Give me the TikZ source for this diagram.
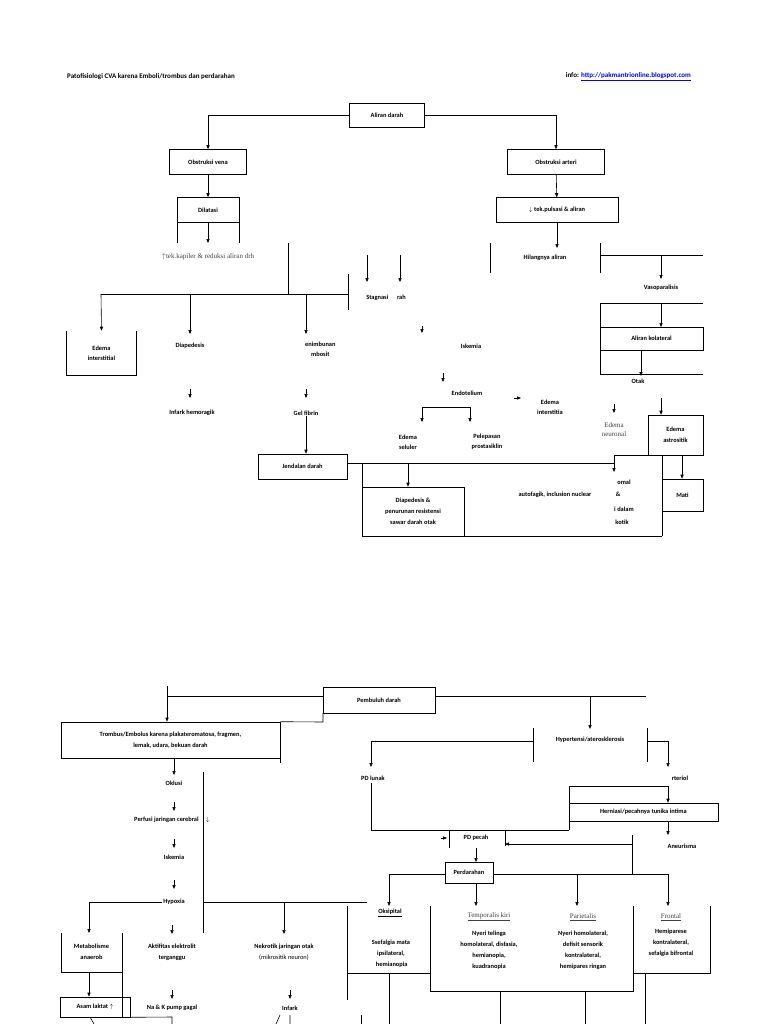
\documentclass[tikz,border=0pt]{standalone}
\usepackage{fontspec}
\setmainfont{Carlito}
\newfontfamily\serifx{Liberation Serif}
\usetikzlibrary{arrows.meta}
\begin{document}
\begin{tikzpicture}[x=1pt,y=-1pt,
 every node/.style={font=\fontsize{6.4}{8}\selectfont\bfseries,align=center,inner sep=1pt},
 bx/.style={draw,line width=0.6pt},
 ln/.style={line width=0.6pt},
 ar/.style={line width=0.6pt,-{Triangle[length=4pt,width=3.2pt]}},
 sr/.style={font=\fontsize{7}{9}\selectfont\serifx,text=black!75}]
\useasboundingbox (0,0) rectangle (768,1024);
% header
\node[anchor=west,font=\fontsize{7}{9}\selectfont\bfseries] (title) at (66,77) {Patofisiologi CVA karena Emboli/trombus dan perdarahan};
\node[anchor=east,font=\fontsize{7}{9}\selectfont\bfseries] (info) at (692,77) {info: \textcolor{blue}{\underline{http://pakmantrionline.blogspot.com}}};
% ===== TOP =====
\node[bx,minimum width=75pt,minimum height=24pt] (ad) at (387,115) {Aliran darah};
\node[bx,minimum width=77pt,minimum height=25pt] (ov) at (208,162) {Obstruksi vena};
\node[bx,minimum width=97pt,minimum height=25pt] (oa) at (556,162) {Obstruksi arteri};
\draw[ar] (ad.west) -| (ov.north);
\draw[ar] (ad.east) -| (oa.north);
\node[bx,minimum width=62pt,minimum height=25pt] (dil) at (208,210) {Dilatasi};
\node[bx,minimum width=122pt,minimum height=25pt] (tp) at (557,210) {$\downarrow$ tek.pulsasi \& aliran};
\draw[ar] (ov) -- (dil);
\draw[ar] (oa) -- (tp);
\draw[ln] (177,223) -- (177,243) (239,223) -- (239,243);
\node[sr] (tk) at (208,257) {$\uparrow$tek.kapiler \& reduksi aliran drh};
\coordinate (tkt) at (208,243);
\draw[ar] (dil.south) -- (tkt);
\draw[ln] (288,243) -- (288,294);
\draw[ln] (101,294) -- (348,294) (348,274) -- (348,310);
\node[bx,draw=none,minimum width=69pt,minimum height=44pt] (ei) at (101.5,353) {Edema\\[2pt]interstitial};
\draw[ln] (ei.north west) |- (ei.south east) -- (ei.north east);
\node (dia) at (190,346) {Diapedesis};
\node[anchor=north west] (pen) at (304,341) {enimbunan\\[2pt]mbosit};
\draw[ar] (101,294) -- (ei.north);
\draw[ar] (190,294) -- (190,334);
\draw[ar] (306,294) -- (306,334);
\node (stg) at (386,298) {Stagnasi \ \ \ \ \ rah};
\coordinate (s1) at (367,282); \coordinate (s2) at (400,282);
\draw[ar] (367,255) -- (s1);
\draw[ar] (400,255) -- (s2);
\coordinate (a1) at (422,333);
\draw[ar] (422,326) -- (a1);
\node (isk) at (471,346) {Iskemia};
\draw[ar] (190,389) -- (190,398);
\draw[ar] (306,389) -- (306,398);
\node (ih) at (192,413) {Infark hemoragik};
\node (gf) at (306,413) {Gel fibrin};
\draw[ar] (443,373) -- (443,382);
\node (end) at (467,393) {Endotelium};
\node (es) at (408,442) {Edema\\[2pt]seluler};
\node (pp) at (487,442) {Pelepasan\\[2pt]prostasiklin};
\draw[ar] (470,407) -- (422,407) -- (422,422);
\draw[ar] (422,407) -- (470,407) -- (470,422);
\draw[ar] (514,398) -- (521,398);
\node (eit) at (550,407) {Edema\\[2pt]interstitia};
\draw[ar] (614,404) -- (614,413);
\node[sr] (en) at (614,430) {Edema\\neuronal};
% right branch
\node (hil) at (545,258) {Hilangnya aliran};
\draw[ar] (tp.south -| 557,0) -- (557,248);
\draw[ln] (490,243) -- (490,273) (600,243) -- (600,273);
\draw[ln] (600,255) -- (703,255);
\node (vas) at (661,288) {Vasoparalisis};
\draw[ar] (661,255) -- (661,279);
\draw[ln] (703,303) -- (600,303) -- (600,374) -- (703,374);
\node[bx,minimum width=103pt,minimum height=23pt] (ak) at (651.5,338.5) {Aliran kolateral};
\draw[ar] (661,303) -- (661,327);
\node (otak) at (638,381) {Otak};
\draw[ar] (641,350) -- (641,376);
\node[bx,minimum width=55pt,minimum height=40pt] (eas) at (675.5,435) {Edema\\[3pt]astrositik};
\draw[ar] (661,398) -- (eas.north -| 661,0);
\node[bx,minimum width=41pt,minimum height=32pt] (mati) at (682.5,495) {Mati};
\draw[ar] (682,455) -- (mati.north -| 682,0);
\draw[ln] (662,455) -- (662,536);
\node[bx,minimum width=89pt,minimum height=25pt] (jd) at (302.5,466.5) {Jendalan darah};
\draw[ar] (gf.south) -- (jd.north -| 306,0);
\draw[ln] (jd.east |- 0,463) -- (614,463) -- (614,455) -- (648,455);
\draw[ar] (614,455) -- (614,472);
\draw[ln] (362,463) -- (362,536) -- (662,536);
\node[bx,minimum width=102pt,minimum height=49pt] (dp) at (413,511.5) {Diapedesis \&\\[3pt]penurunan resistensi\\[3pt]sawar darah otak};
\draw[ar] (408,463) -- (dp.north -| 408,0);
\node (om) at (624,482) {omal};
\node (au) at (555,495) {autofagik, inclusion nuclear};
\node (amp) at (618,494) {\&};
\node (idl) at (624,509) {i dalam};
\node (ko) at (622,522) {kotik};
% ===== BOTTOM =====
\node[bx,minimum width=112pt,minimum height=26pt] (pd) at (379,700) {Pembuluh darah};
\draw[ln] (167,696) -- (pd.west |- 0,696) (pd.east |- 0,696) -- (646,696);
\draw[ln] (167,686) -- (167,696);
\node[bx,minimum width=219pt,minimum height=36pt] (tr) at (170.5,740) {Trombus/Embolus karena plakateromatosa, fragmen,\\[3pt]lemak, udara, bekuan darah};
\draw[ar] (167,696) -- (tr.north -| 167,0);
\draw[ln] (tr.north east) -- (323,722) -- (323,713);
\draw[ln] (280,758) -- (280,763);
\node (okl) at (174,783) {Oklusi};
\draw[ar] (174,758) -- (174,775);
\draw[ln] (203,772) -- (203,933);
\draw[ar] (174,802) -- (174,811);
\node (perf) at (172,820) {Perfusi jaringan cerebral \ \ \ \ \mdseries$\downarrow$};
\draw[ar] (174,839) -- (174,848);
\node (isk2) at (174,857) {Iskemia};
\draw[ar] (174,880) -- (174,889);
\node (hyp) at (174,902) {Hypoxia};
\draw[ln] (hyp.west) -- (89,902);
\draw[ln] (203,902) -- (367,902);
\draw[ar] (89,902) -- (89,933);
\node (met) at (91.5,952) {Metabolisme\\[3pt]anaerob};
\draw[ln] (61,933) -- (61,972) -- (122,972) (122,933) -- (122,1017);
\node[bx,minimum width=70pt,minimum height=20pt] (al) at (95,1007) {Asam laktat $\uparrow$};
\draw[ar] (89,972) -- (al.north -| 89,0);
\draw[ln] (al.south east) -- (172,1017) -- (172,1024);
\draw[ln] (90,1017) .. controls (92,1020) .. (94,1024);
\draw[ar] (172,925) -- (172,934);
\node (akt) at (172,952) {Aktifitas elektrolit\\[3pt]terganggu};
\draw[ar] (284,902) -- (284,934);
\node (nek) at (284,952) {Nekrotik jaringan otak\\[3pt]\mdseries(mikrositik neuron)};
\draw[ar] (172,990) -- (172,999);
\node (na) at (172,1008) {Na \& K pump gagal};
\draw[ar] (290,990) -- (290,999);
\node (inf) at (290,1008) {Infark};
\draw[ln] (290,1015) -- (290,1024) (276,1024) -- (280,1015);
\draw[ln] (347,906) -- (347,1000) (361,1015) -- (361,1024);
% hypertension branch
\node (hyt) at (590,740) {Hypertensi/aterosklerosis};
\draw[ar] (590,696) -- (590,729);
\draw[ln] (533,728) -- (533,762) (647,728) -- (647,762);
\node (pdl) at (373,778) {PD lunak};
\node (art) at (680,778) {rteriol};
\draw[ar] (533,741) -| (371,767);
\draw[ar] (647,741) -| (668,767);
\node[bx,minimum width=149pt,minimum height=18pt] (her) at (643.5,812) {Herniasi/pecahnya tunika intima};
\draw[ar] (569,830) -- (569,786) -| (her.north -| 668,0);
\draw[ar] (her.south -| 668,0) -- (668,835);
\node (an) at (682,846) {Aneurisma};
\draw[ln] (632,835) -- (632,874);
\draw[ln] (371,783) -- (371,830) -- (569,830);
\node (pdp) at (476,838) {PD pecah};
\draw[ln] (449,830) -- (449,848) (505,830) -- (505,846);
\draw[ar] (441,838) -- (447,838);
\draw[ar] (632,844) -- (505,844);
\node[bx,minimum width=48pt,minimum height=21pt] (prd) at (469,872.5) {Perdarahan};
\draw[ar] (476,848) -- (476,862);
\draw[ln] (389,874) -- (prd.west |- 0,874) (prd.east |- 0,874) -- (668,874);
\draw[ar] (389,874) -- (389,906);
\draw[ar] (476,883) -- (476,906);
\draw[ar] (577,874) -- (577,906);
\draw[ar] (668,874) -- (668,906);
\draw[ln] (347,906) -- (347,973) -- (430,973);
\draw[ln] (430,906) -- (430,991) -- (633,991) -- (633,906);
\draw[ln] (633,973) -- (710,973) -- (710,906);
\draw[ln] (389,973) -- (389,1024) (500,991) -- (500,1024) (585,991) -- (585,1024) (645,973) -- (645,1024);
\node (oks) at (390,913) {\underline{Oksipital}};
\node (oksx) at (391,954) {Ssefalgia mata\\[3pt]ipsilateral,\\[3pt]\ hemianopia};
\node[sr] (tem) at (489,917) {\underline{Temporalis kiri}};
\node (temx) at (489,950) {Nyeri telinga\\[3pt]homolateral, disfasia,\\[3pt]hemianopia,\\[3pt]kuadranopia};
\node[sr] (par) at (583,917) {\underline{Parietalis}};
\node (parx) at (583,950) {Nyeri homolateral,\\[3pt]defisit sensorik\\[3pt]kontralateral,\\[3pt]hemipares ringan};
\node[sr] (fro) at (671,917) {\underline{Frontal}};
\node (frox) at (671,943) {Hemiparese\\[3pt]kontralateral,\\[3pt]sefalgia bifrontal};
\end{tikzpicture}
\end{document}
